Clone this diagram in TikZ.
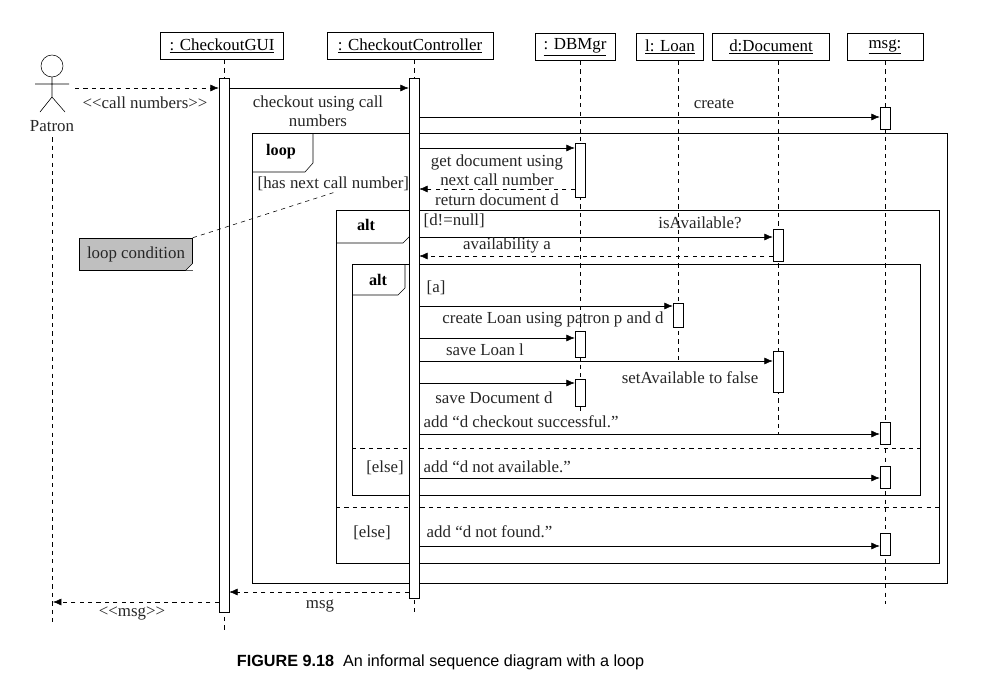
\documentclass[tikz,border=0pt]{standalone}
\usepackage{fontspec}
\setmainfont{Liberation Serif}
\newfontfamily\capfont{Liberation Sans}
\usetikzlibrary{positioning, arrows.meta, calc}

\begin{document}
\begin{tikzpicture}[
    x=0.025cm, y=-0.025cm,
    % Style for the objects
    obj/.style={draw, thin, minimum height=27*0.025cm, inner xsep=2pt, font=\fontsize{12}{14}\selectfont},
    lbl/.style={font=\fontsize{12}{13.5}\selectfont, inner sep=1pt, text=black!85},
    life/.style={dashed, thin},
    act/.style={draw, fill=white, thin, minimum width=0.25cm, inner sep=0pt},
    msg/.style={-{Latex[length=6pt,width=5pt]}, thin},
    ret/.style={-{Latex[length=6pt,width=5pt]}, thin, dashed},
    frame/.style={draw, thin},
    tab/.style={font=\bfseries\fontsize{11.5}{13}\selectfont}
]
    \useasboundingbox (0,0) rectangle (994,691);

    % --- Objects ---
    \node[obj, minimum width=123*0.025cm] (gui) at (222,46) {\underline{: CheckoutGUI}};
    \node[obj, minimum width=166*0.025cm] (ctl) at (410,46) {\underline{: CheckoutController}};
    \node[obj, minimum width=80*0.025cm] (dbm) at (575,47) {\underline{: DBMgr}};
    \node[obj, minimum width=67*0.025cm] (loan) at (670,47) {\underline{l: Loan}};
    \node[obj, minimum width=117*0.025cm] (doc) at (771,47) {\underline{d:Document}};
    \node[obj, minimum width=76*0.025cm] (msgobj) at (885,47) {\underline{msg:}};

    % --- Actor ---
    \draw[thin] (52,66) circle (11);
    \draw[thin] (52,77) -- (52,97) (35,84) -- (69,84) (40,112) -- (52,97) -- (65,112);
    \node[lbl] (patron) at (52,126) {Patron};

    % --- Lifelines ---
    \draw[life] (patron.south) ++(0,4) -- (52,625);
    \draw[life] (224,60) -- (224,632);
    \draw[life] (414,60) -- (414,612);
    \draw[life] (580,61) -- (580,412);
    \draw[life] (678,61) -- (678,360);
    \draw[life] (778,61) -- (778,434);
    \draw[life] (885,61) -- (885,604);

    % --- Frames ---
    \draw[frame] (252,133) rectangle (947,583);
    \draw[frame] (252,172) -- (305,172) -- (313,163) -- (313,133);
    \node[tab] at (281,152) {loop};
    \node[lbl, anchor=west] (cond) at (256,184) {[has next call number]};
    \draw[frame] (336,210) rectangle (939,563);
    \draw[frame] (336,243) -- (403,243) -- (411,235) -- (411,210);
    \node[tab] at (366,225) {alt};
    \draw[frame] (352,264) rectangle (920,495);
    \draw[frame] (352,295) -- (398,295) -- (405,288) -- (405,264);
    \node[tab] at (378,280) {alt};
    \draw[dashed, thin] (352,448) -- (920,448);
    \draw[dashed, thin] (336,507) -- (939,507);

    % --- Activations ---
    \node[act, minimum height=534*0.025cm, anchor=north] (aGui) at (224,78) {};
    \node[act, minimum height=520*0.025cm, anchor=north] (aCtl) at (414,78) {};
    \node[act, minimum height=54*0.025cm, anchor=north] (aDb1) at (580,143) {};
    \node[act, minimum height=26*0.025cm, anchor=north] (aDb2) at (580,331) {};
    \node[act, minimum height=27*0.025cm, anchor=north] (aDb3) at (580,379) {};
    \node[act, minimum height=24*0.025cm, anchor=north] (aLoan) at (678,303) {};
    \node[act, minimum height=32*0.025cm, anchor=north] (aDoc1) at (778,229) {};
    \node[act, minimum height=41*0.025cm, anchor=north] (aDoc2) at (778,351) {};
    \foreach \y/\n in {107/1, 422/2, 466/3, 533/4} {
        \node[act, minimum height=22*0.025cm, anchor=north] (aMsg\n) at (885,\y) {};
    }

    % --- Messages ---
    \coordinate (pIn) at (75,88);
    \draw[ret] (pIn) -- (aGui.west |- pIn);
    \node[lbl] at (145,103) {{<}{<}call numbers{>}{>}};
    \draw[msg] (aGui.east |- 0,88) -- (aCtl.west |- 0,88);
    \node[lbl, align=center] at (318,111) {checkout using call\\numbers};
    \draw[msg] (aCtl.east |- 0,117) -- (aMsg1.west |- 0,117);
    \node[lbl] at (714,104) {create};
    \draw[msg] (aCtl.east |- 0,148) -- (aDb1.west |- 0,148);
    \node[lbl, align=center] at (497,170) {get document using\\next call number};
    \draw[ret] (aDb1.west |- 0,189) -- (aCtl.east |- 0,189);
    \node[lbl] at (497,200) {return document d};
    \node[lbl, anchor=west] at (422,221) {[d!=null]};
    \draw[msg] (aCtl.east |- 0,237) -- (aDoc1.west |- 0,237);
    \node[lbl] at (700,223) {isAvailable?};
    \draw[ret] (aDoc1.west |- 0,256) -- (aCtl.east |- 0,256);
    \node[lbl] at (507,245) {availability a};
    \node[lbl, anchor=west] at (425,288) {[a]};
    \draw[msg] (aCtl.east |- 0,306) -- (aLoan.west |- 0,306);
    \node[lbl] at (553,319) {create Loan using patron p and d};
    \draw[msg] (aCtl.east |- 0,338) -- (aDb2.west |- 0,338);
    \node[lbl] at (485,350) {save Loan l};
    \draw[msg] (aCtl.east |- 0,361) -- (aDoc2.west |- 0,361);
    \node[lbl] at (690,378) {setAvailable to false};
    \draw[msg] (aCtl.east |- 0,383) -- (aDb3.west |- 0,383);
    \node[lbl] at (494,398) {save Document d};
    \draw[msg] (aCtl.east |- 0,434) -- (aMsg2.west |- 0,434);
    \node[lbl, anchor=west] at (422,422) {add ``d checkout successful.''};
    \node[lbl] at (385,468) {[else]};
    \draw[msg] (aCtl.east |- 0,478) -- (aMsg3.west |- 0,478);
    \node[lbl, anchor=west] at (422,467) {add ``d not available.''};
    \node[lbl] at (372,533) {[else]};
    \draw[msg] (aCtl.east |- 0,546) -- (aMsg4.west |- 0,546);
    \node[lbl, anchor=west] at (425,532) {add ``d not found.''};
    \draw[ret] (aCtl.west |- 0,592) -- (aGui.east |- 0,592);
    \node[lbl] at (320,606) {msg};
    \coordinate (pOut) at (53,602);
    \draw[ret] (aGui.west |- pOut) -- (pOut);
    \node[lbl] at (132,613) {{<}{<}msg{>}{>}};

    % --- Note ---
    \node[draw, thin, fill=black!25, minimum width=113*0.025cm, minimum height=32*0.025cm, lbl, inner sep=2pt] (note) at (136,254) {loop condition};
    \fill[white] (note.south east) -- ++(-7,0) -- ++(7,-7) -- cycle;
    \draw[thin] (note.south east) ++(-7,0) -- ++(7,-7);
    \draw[dashed, thin] (note.north east) -- (cond.south);

    % --- Caption ---
    \node[font=\capfont\fontsize{11.5}{13}\selectfont, anchor=west] (cap) at (232,662) {{\bfseries FIGURE 9.18}\ \ An informal sequence diagram with a loop};
\end{tikzpicture}
\end{document}
